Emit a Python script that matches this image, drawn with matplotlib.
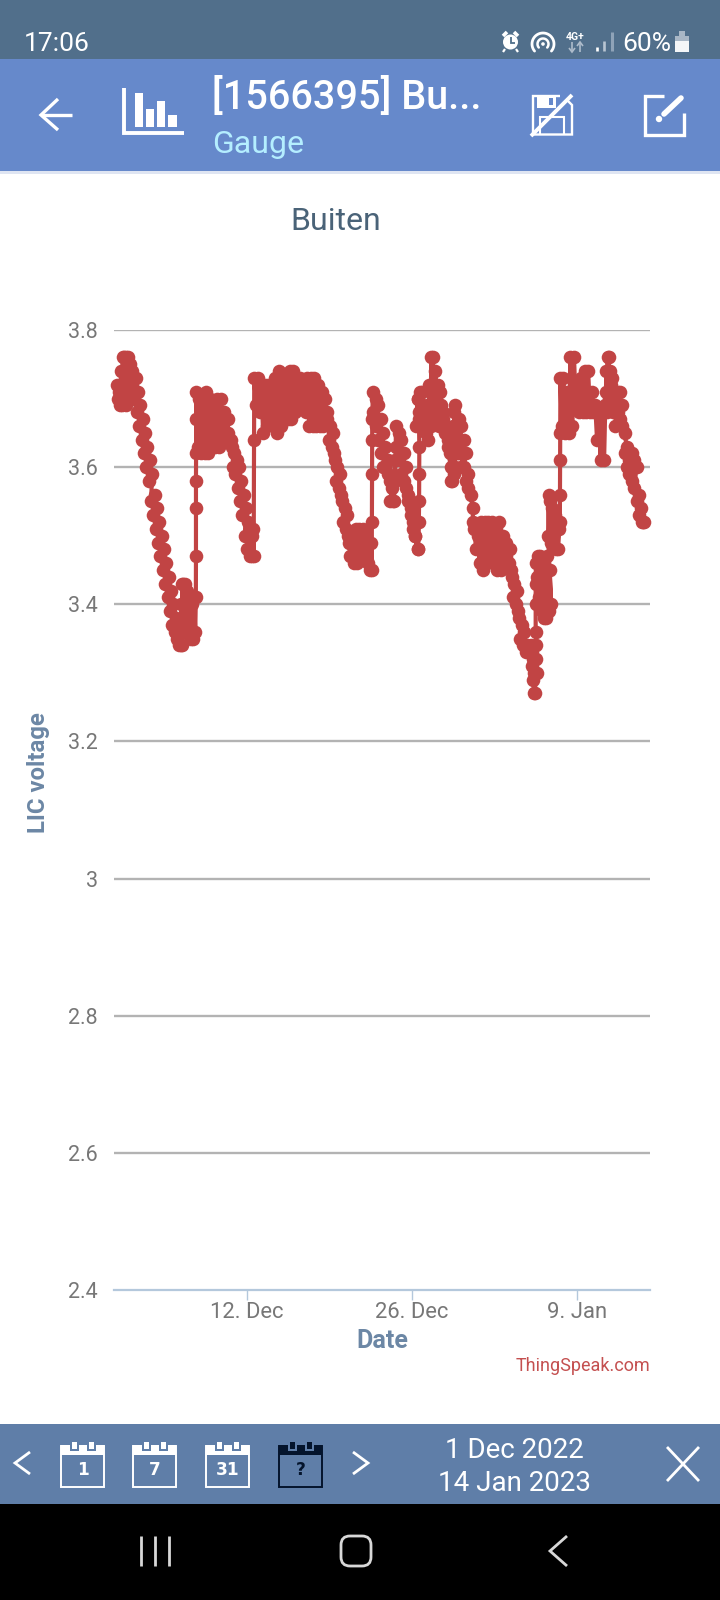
import matplotlib
matplotlib.use('Agg')
import matplotlib.pyplot as plt
from matplotlib.patches import Rectangle, FancyBboxPatch, Circle
import numpy as np

plt.rcParams['font.family'] = ['Roboto', 'DejaVu Sans']

# days since 1 Dec 2022, voltage, one pair per stretch of the curve
days_1 = [0,.1,.2,.3,.35,.45,.5,.6,.65,.75,.8,.9,.95,1.05,1.1,1.2,1.3]
volts_1 = [3.72,3.70,3.71,3.69,3.74,3.69,3.76,3.70,3.76,3.69,3.76,3.71,3.76,3.72,3.75,3.73,3.74]
days_2 = [1.3,1.6,1.5,1.8,1.7,2.0,1.9,2.2,2.1,2.4,2.3,2.6,2.5,2.8,2.7,3.0,2.9,3.2,3.1,3.4,3.3,3.6,3.5,3.8,3.7,4.0,3.9,4.2,4.1,4.4,4.3,4.6,4.5,4.8,4.7,5.0,4.9,5.2,5.1,5.3]
volts_2 = [3.72,3.73,3.70,3.71,3.68,3.69,3.66,3.67,3.64,3.65,3.62,3.63,3.60,3.61,3.58,3.59,3.55,3.56,3.53,3.54,3.51,3.52,3.49,3.50,3.47,3.48,3.45,3.46,3.43,3.44,3.41,3.42,3.39,3.40,3.37,3.38,3.36,3.36,3.35,3.34]
days_3 = [5.4,5.45,5.5,5.55,5.6,5.65,5.7,5.75,5.85,5.95,6.05,6.15,6.25,6.35,6.45,6.55,6.65]
volts_3 = [3.34,3.40,3.34,3.43,3.36,3.43,3.37,3.43,3.38,3.42,3.37,3.41,3.35,3.40,3.35,3.41,3.36]
days_4 = [6.7,6.71,6.71,6.71,6.72,6.72,6.75]
volts_4 = [3.41,3.47,3.54,3.58,3.62,3.67,3.71]
days_5 = [6.85,7.0,7.15,7.3,7.45,7.6,7.75,7.9,8.05,8.2,8.35,8.5,8.65,8.8,8.95,9.1,9.25,9.4]
volts_5 = [3.63,3.70,3.62,3.69,3.62,3.71,3.62,3.70,3.63,3.69,3.63,3.70,3.63,3.70,3.64,3.68,3.64,3.67]
days_6 = [9.45,9.75,9.65,9.95,9.85,10.15,10.05,10.35,10.25,10.55,10.45,10.75,10.65,10.95,10.85,11.15,11.05,11.3,11.25,11.43]
volts_6 = [3.65,3.63,3.64,3.62,3.60,3.61,3.59,3.60,3.57,3.58,3.55,3.56,3.53,3.54,3.50,3.52,3.48,3.51,3.47,3.50]
days_7 = [11.5,11.55,11.6,11.63,11.65]
volts_7 = [3.47,3.51,3.47,3.64,3.73]
days_8 = [11.8,11.95,12.1,12.25,12.4,12.55,12.7,12.85,13.0,13.15,13.3,13.45,13.6,13.75,13.9,14.05,14.2,14.35,14.5,14.65,14.8,14.95,15.1,15.25,15.4,15.55,15.7,15.85,16.0,16.15,16.3,16.45,16.6,16.75,16.9,17.05,17.2,17.35,17.5,17.65,17.8]
volts_8 = [3.69,3.73,3.68,3.72,3.65,3.72,3.66,3.72,3.67,3.72,3.66,3.73,3.65,3.74,3.66,3.73,3.67,3.72,3.67,3.74,3.67,3.74,3.68,3.73,3.69,3.73,3.69,3.72,3.68,3.73,3.66,3.73,3.66,3.73,3.66,3.72,3.66,3.71,3.66,3.70,3.67]
days_9 = [17.8,18.1,18.0,18.3,18.2,18.5,18.4,18.7,18.6,18.9,18.8,19.1,19.0,19.3,19.2,19.5,19.4,19.7,19.6]
volts_9 = [3.68,3.66,3.64,3.65,3.63,3.61,3.62,3.60,3.58,3.59,3.57,3.55,3.56,3.54,3.52,3.53,3.51,3.49,3.50]
days_10 = [19.8,19.95,20.1,20.25,20.4,20.55,20.7,20.85,21.0,21.15,21.3,21.45,21.55]
volts_10 = [3.47,3.50,3.46,3.51,3.46,3.51,3.48,3.51,3.47,3.50,3.46,3.45,3.49]
days_11 = [21.6,21.62,21.63,21.64,21.65,21.7]
volts_11 = [3.45,3.52,3.59,3.64,3.67,3.71]
days_12 = [21.95,21.75,22.15,21.95,22.35,22.15,22.55,22.35,22.75,22.55,22.95,22.75,23.15,22.95,23.35,23.15,23.4]
volts_12 = [3.70,3.68,3.69,3.66,3.67,3.64,3.65,3.62,3.63,3.60,3.61,3.60,3.58,3.59,3.57,3.55,3.55]
days_13 = [23.45,23.5,23.55,23.6,23.66,23.9,23.7,24.1,23.9,24.3,24.1,24.5,24.3,24.7,24.5,24.9,24.7,25.1,24.9,25.3,25.1,25.5,25.3,25.55]
volts_13 = [3.58,3.55,3.61,3.58,3.66,3.65,3.63,3.64,3.61,3.62,3.59,3.60,3.58,3.56,3.57,3.54,3.55,3.52,3.53,3.50,3.51,3.48,3.50,3.48]
days_14 = [25.6,25.62,25.63,25.64,25.6,25.5]
volts_14 = [3.52,3.55,3.59,3.63,3.68,3.70]
days_15 = [25.4,25.5,25.6,25.7,25.8,25.9,26.0,26.1,26.2,26.3,26.4,26.5,26.6,26.65,26.7,26.8,26.9,27.0,27.1,27.2,27.3,27.4]
volts_15 = [3.66,3.70,3.67,3.71,3.66,3.71,3.66,3.68,3.65,3.69,3.64,3.72,3.66,3.76,3.68,3.76,3.67,3.74,3.68,3.72,3.66,3.71]
days_16 = [27.65,27.45,27.85,27.65,28.05,27.85,28.25,28.05,28.3,28.35,28.4,28.45,28.5,28.55,28.6,28.65,28.7,28.75]
volts_16 = [3.68,3.69,3.66,3.67,3.64,3.65,3.62,3.63,3.60,3.58,3.63,3.58,3.66,3.59,3.68,3.60,3.69,3.62]
days_17 = [29.0,28.8,29.2,29.0,29.4,29.2,29.6,29.4,29.8,29.6,30.0,29.8,30.2,30.15]
volts_17 = [3.67,3.62,3.66,3.62,3.64,3.60,3.62,3.60,3.59,3.58,3.56,3.57,3.54,3.52]
days_18 = [30.3,30.45,30.6,30.75,30.9,31.05,31.2,31.35,31.5,31.65,31.8,31.95,32.1,32.25,32.4,32.55,32.7,32.85,33.0]
volts_18 = [3.51,3.48,3.50,3.46,3.52,3.45,3.52,3.46,3.52,3.47,3.52,3.46,3.51,3.45,3.52,3.45,3.50,3.46,3.49]
days_19 = [33.0,33.3,33.2,33.5,33.4,33.7,33.6,33.9,33.8,34.1,34.0,34.3,34.2,34.5,34.4,34.7,34.6,34.9,34.8,35.0]
volts_19 = [3.47,3.48,3.46,3.44,3.45,3.43,3.41,3.42,3.40,3.38,3.39,3.37,3.35,3.36,3.34,3.33,3.34,3.33,3.34,3.33]
days_20 = [35.1,35.15,35.2,35.25,35.3,35.35,35.4,35.45,35.5,35.55,35.6]
volts_20 = [3.34,3.31,3.33,3.29,3.32,3.27,3.30,3.27,3.32,3.34,3.30]
days_21 = [35.5,35.5,35.5,35.52]
volts_21 = [3.36,3.40,3.43,3.46]
days_22 = [35.6,35.7,35.8,35.9,36.0,36.1,36.2,36.3,36.4,36.5,36.6,36.7,36.8]
volts_22 = [3.44,3.47,3.41,3.47,3.39,3.46,3.38,3.45,3.38,3.47,3.39,3.45,3.40]
days_23 = [36.55,36.6,36.65,36.7,36.8,36.9,37.0,37.1,37.2,37.3,37.4,37.5,37.55]
volts_23 = [3.50,3.56,3.50,3.55,3.49,3.54,3.50,3.53,3.48,3.51,3.48,3.51,3.52]
days_24 = [37.56,37.57,37.58,37.6]
volts_24 = [3.56,3.61,3.65,3.73]
days_25 = [37.7,37.85,38.0,38.15,38.3,38.45,38.6,38.75,38.9,39.05,39.2,39.35,39.5,39.65,39.8,39.95,40.1,40.25,40.4,40.55,40.7,40.85,41.0,41.15,41.3]
volts_25 = [3.66,3.73,3.65,3.71,3.65,3.76,3.66,3.76,3.69,3.72,3.68,3.73,3.68,3.74,3.68,3.74,3.68,3.71,3.68,3.69,3.64,3.68,3.61,3.68,3.61]
days_26 = [41.4,41.45,41.5,41.55,41.6,41.65,41.7,41.75,41.8,41.9,42.0,42.1]
volts_26 = [3.69,3.71,3.74,3.68,3.76,3.71,3.76,3.70,3.74,3.72,3.73,3.70]
days_27 = [42.05,42.45,42.25,42.65,42.45,42.85,42.65,43.05,42.85,43.25,43.05,43.45,43.25,43.65,43.45,43.85,43.65,44.05,43.85,44.25,44.05,44.45,44.25,44.6,44.5,44.7]
volts_27 = [3.68,3.71,3.66,3.71,3.68,3.69,3.67,3.65,3.66,3.63,3.62,3.61,3.60,3.62,3.59,3.61,3.58,3.60,3.57,3.56,3.55,3.54,3.53,3.52,3.52,3.52]

y_ticks = [2.4, 2.6, 2.8, 3, 3.2, 3.4, 3.6, 3.8]
y_labels = ['2.4', '2.6', '2.8', '3', '3.2', '3.4', '3.6', '3.8']
x_ticks = [11, 25, 39]
x_labels = ['12. Dec', '26. Dec', '9. Jan']

days = (days_1 + days_2 + days_3 + days_4 + days_5 + days_6 + days_7 + days_8 + days_9
        + days_10 + days_11 + days_12 + days_13 + days_14 + days_15 + days_16 + days_17 + days_18
        + days_19 + days_20 + days_21 + days_22 + days_23 + days_24 + days_25 + days_26 + days_27)
volts = (volts_1 + volts_2 + volts_3 + volts_4 + volts_5 + volts_6 + volts_7 + volts_8 + volts_9
         + volts_10 + volts_11 + volts_12 + volts_13 + volts_14 + volts_15 + volts_16 + volts_17 + volts_18
         + volts_19 + volts_20 + volts_21 + volts_22 + volts_23 + volts_24 + volts_25 + volts_26 + volts_27)

W, H = 720, 1600
RED = '#c14444'
HEADER = '#6689cb'
BAR = '#5f7ea8'
STATUS = '#516f8b'
fig = plt.figure(figsize=(W / 100, H / 100), dpi=100)

# everything that is phone screen, in pixels
ui = fig.add_axes([0, 0, 1, 1])
ui.set_xlim(0, W)
ui.set_ylim(H, 0)
ui.axis('off')


def band(y0, y1, color):
    ui.add_patch(Rectangle((0, y0), W, y1 - y0, color=color, lw=0))


def line(xs, ys, color='white', lw=2.0, cap='butt'):
    ui.plot(xs, ys, color=color, lw=lw, solid_capstyle=cap, solid_joinstyle='miter')


def box(x0, y0, x1, y1, color='white'):
    ui.add_patch(Rectangle((x0, y0), x1 - x0, y1 - y0, color=color, lw=0))


def arch(cx, cy, r, lw):
    # open at the bottom
    t = np.radians(np.linspace(-40, 220, 40))
    ui.plot(cx + r * np.cos(t), cy - r * np.sin(t), color='white', lw=lw, solid_capstyle='round')


band(0, 59, STATUS)
band(59, 171, HEADER)
band(171, 174, '#dfe5f2')
band(1424, 1504, BAR)
band(1504, 1600, '#000000')

# status bar
ui.text(24, 51, '17:06', color='white', fontsize=19, va='baseline')
ui.text(622, 51, '60%', color='white', fontsize=19, va='baseline')
box(675, 36, 689, 52, '#a9b7c6')
box(675, 41, 689, 52, '#f4f6f8')
box(679, 31, 685, 36, '#a9b7c6')
ui.add_patch(Circle((510.5, 42), 7.5, fc='white', lw=0))
line([510.5, 510.5, 515], [37, 43, 43], color=STATUS, lw=1.3)
line([503, 507], [36, 32], lw=2.6)
line([518, 514], [36, 32], lw=2.6)
line([505, 503], [49, 52], lw=1.6)
line([516, 518], [49, 52], lw=1.6)
arch(543, 44, 11, 2)
arch(543, 44, 5.5, 1.8)
ui.add_patch(Circle((543, 44), 1.8, fc='white', lw=0))
ui.text(575.5, 40, '4G+', color='white', fontsize=7.5, fontweight='bold', ha='center', va='baseline')
line([572, 572], [42, 52], color='#aebccb', lw=1.2)
line([569, 572, 575], [48, 52, 48], color='#aebccb', lw=1.2)
line([580, 580], [42, 52], color='#aebccb', lw=1.2)
line([577, 580, 583], [46, 42, 46], color='#aebccb', lw=1.2)
line([597, 597], [47, 51], lw=1.9)
line([604, 604], [41, 51], color='#b8c5d2', lw=1.9)
line([612, 612], [32, 51], color='#8fa3b8', lw=2.2)

# header
line([58, 41, 58], [99, 115, 130], lw=2.4)
line([41, 72], [115, 115], lw=2.4)
line([123.5, 123.5, 184], [88, 132.5, 132.5], lw=2.8)
box(134.5, 93, 142.5, 127)
box(146, 109, 154, 127)
box(157, 101, 164.5, 127)
box(167.5, 115, 177, 127)
ui.text(212, 109, '[1566395] Bu...', color='white', fontsize=28.5, fontweight='medium', va='baseline')
ui.text(212, 153, 'Gauge', color='#b4eeff', fontsize=23, va='baseline')
# floppy
line([560, 533, 533, 572, 572, 566], [96, 96, 134.5, 134.5, 105, 99], lw=1.7)
box(537, 96, 556, 108)
box(549, 98, 553, 105, HEADER)
line([540, 540, 548], [134, 117, 117], lw=1.5)
line([552, 564, 564], [117, 117, 134], lw=1.5)
line([531, 572], [136, 95], lw=2.8)
# note with pencil
line([664, 644.5, 644.5, 684, 684], [95.5, 95.5, 134.5, 134.5, 113], lw=2.4)
line([664, 681], [114, 98], lw=4, cap='round')
ui.add_patch(Circle((659, 119), 3.2, fc='white', lw=0))

# bottom bar
line([30, 15, 30], [1452, 1463, 1474], lw=2)
line([353, 368, 353], [1452, 1463, 1474], lw=2)
cal_lefts = [61, 133, 206, 279]
cal_texts = ['1', '7', '31', '?']
for x0, t in zip(cal_lefts, cal_texts):
    col = '#04142c' if t == '?' else 'white'
    ui.add_patch(Rectangle((x0, 1446), 43, 41, fc='none', ec=col, lw=1.4))
    box(x0, 1445, x0 + 43, 1455, col)
    box(x0 + 9, 1442, x0 + 18, 1451, BAR)
    box(x0 + 26, 1442, x0 + 35, 1451, BAR)
    box(x0 + 11, 1442, x0 + 16, 1449, col)
    box(x0 + 28, 1442, x0 + 33, 1449, col)
    ui.text(x0 + 21.5, 1470, t, color=col, fontsize=12.2, fontweight='bold', family='DejaVu Sans', ha='center', va='center')
ui.text(514, 1458, '1 Dec 2022', color='white', fontsize=20, ha='center', va='baseline')
ui.text(514, 1491, '14 Jan 2023', color='white', fontsize=20, ha='center', va='baseline')
line([667, 699], [1447, 1481], lw=2)
line([699, 667], [1447, 1481], lw=2)

# nav bar
for x in [141, 155, 169]:
    line([x, x], [1536, 1566], color='#d8d8d8', lw=2)
ui.add_patch(FancyBboxPatch((346, 1541), 20, 20, boxstyle='round,pad=5,rounding_size=9', fc='none', ec='#d8d8d8', lw=2))
line([567, 550, 567], [1536, 1551, 1566], color='#d8d8d8', lw=2)

# the chart
left, right, top, bottom = 114, 650, 330, 1290
ax = fig.add_axes([left / W, 1 - bottom / H, (right - left) / W, (bottom - top) / H])
ax.patch.set_alpha(0)
ax.set_xlim(-0.237, 45.19)
ax.set_ylim(2.4, 3.8)
for s in ['top', 'right', 'left']:
    ax.spines[s].set_visible(False)
ax.spines['bottom'].set_color('#b4c8dc')
ax.spines['bottom'].set_linewidth(1.6)
ax.set_yticks(y_ticks, y_labels)
ax.set_xticks(x_ticks, x_labels)
ax.grid(axis='y', color='#b3b3b3', lw=1.7)
ax.set_axisbelow(True)
ax.yaxis.get_gridlines()[0].set_visible(False)
ax.tick_params(axis='y', length=0, pad=11.5, labelsize=15.5, labelcolor='#777777')
ax.tick_params(axis='x', length=7, width=1, color='#b4c8dc', pad=1.5, labelsize=15.8, labelcolor='#777777')
ax.plot(days, volts, color=RED, lw=3, marker='o', ms=9.8, mew=0, clip_on=False)

ui.text(336, 221, 'Buiten', color='#4a6378', fontsize=23, ha='center', va='center')
ui.text(38, 773, 'LIC voltage', color='#6c87a5', fontsize=17.2, fontweight='bold', rotation=90, ha='center', va='center')
ui.text(382, 1341, 'Date', color='#6c87a5', fontsize=18, fontweight='bold', ha='center', va='center')
ui.text(650, 1366, 'ThingSpeak.com', color='#c45050', fontsize=13, ha='right', va='center')

fig.savefig('out.png', dpi=100)
